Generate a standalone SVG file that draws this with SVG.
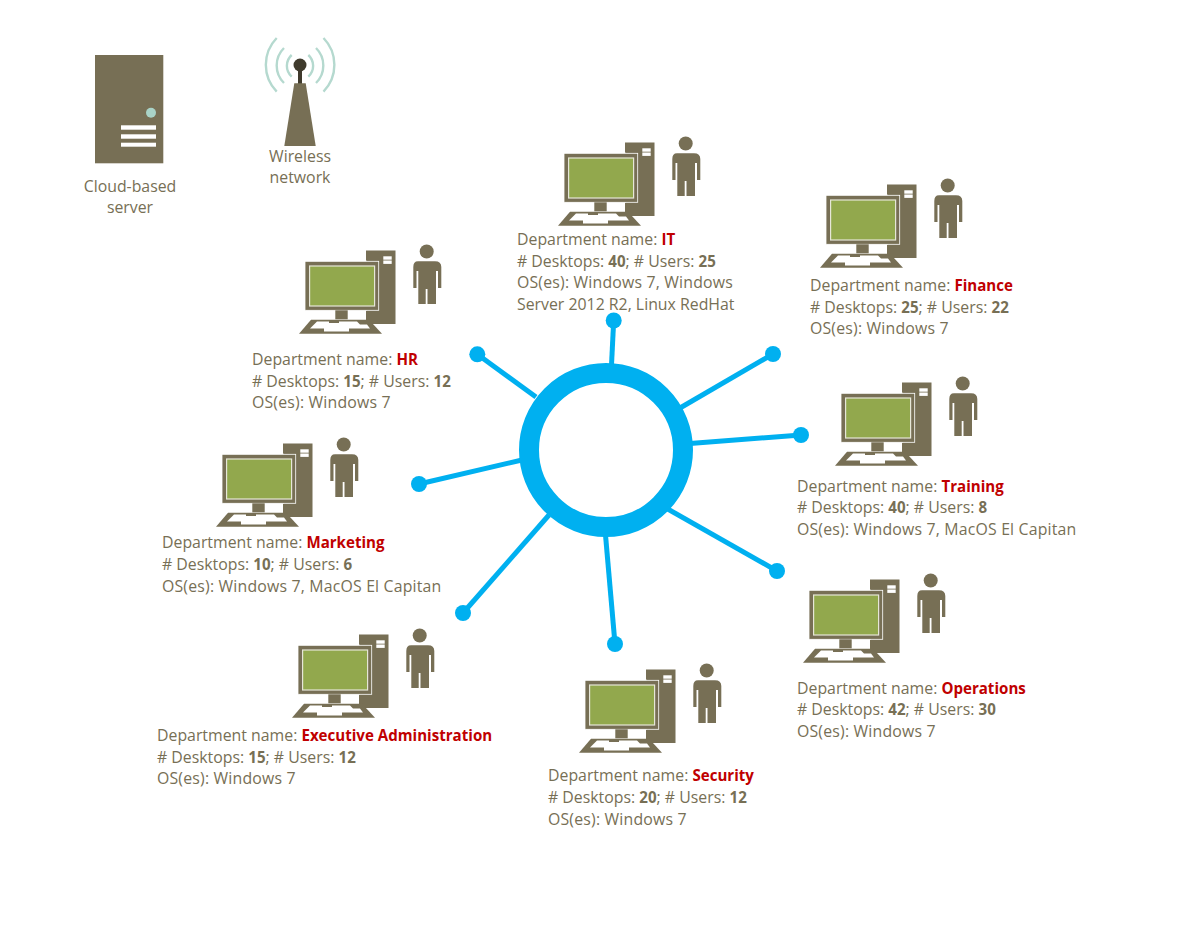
<svg xmlns="http://www.w3.org/2000/svg" width="1200" height="927" viewBox="0 0 1200 927">
<style>
text{font-family:"Open Sans","Noto Sans","Liberation Sans",sans-serif;font-size:15.850px;fill:#776f55}
.b{font-weight:700;font-size:15.100px}
.r{font-weight:700;font-size:15.100px;fill:#c00000}
.m{text-anchor:middle}
.os{letter-spacing:.18px}
.c{fill:#776f55}
.w{fill:#fff}
.arc{fill:none;stroke:#b5d9cf;stroke-width:2.400}
.link{stroke:#00b0f0;stroke-width:5;fill:none}
.dot{fill:#00b0f0}
</style>
<defs>
<g id="workstation">
<rect class="c" x="61" y="-0.500" width="29.500" height="73.500"/>
<rect class="w" x="78.300" y="5.300" width="8.400" height="3.400"/>
<rect class="w" x="78.300" y="9.500" width="8.400" height="3.400"/>
<rect class="w" x="60" y="9.500" width="1.500" height="50.500"/>
<rect x="0" y="10.300" width="73.700" height="49" fill="#776f55" stroke="#fff" stroke-width="0.800"/>
<rect x="4.600" y="15" width="65" height="40" fill="#92a84d" stroke="#e6e6d8" stroke-width="1.200"/>
<rect class="c" x="30.300" y="59.300" width="12.400" height="9"/>
<path class="c" d="M6 68.700H64L77 82.700H-6Z"/>
<path class="w" d="M9 73.500 12 70.500H24V72H34V70.500H52L55 73.500H62L65 77.500H44V80.500H19V77.500H5Z"/>
<circle class="c" cx="121.700" cy="0.500" r="7"/>
<path class="c" d="M113 10.300H130Q136.300 10.300 136.300 16V37H133V20H131V53H122.500V38H120.700V53H113.300V20H111.500V37H108.300V16Q108.300 10.300 113 10.300Z"/>
</g>
</defs>

<g id="connectors">
<path class="link" d="M611.500 365 613.700 320.500"/>
<path class="link" d="M536 397 477.300 354.300"/>
<path class="link" d="M680 408 773 354"/>
<path class="link" d="M690 443.500 801 435"/>
<path class="link" d="M666 508 777 571"/>
<path class="link" d="M605.500 535 615 644"/>
<path class="link" d="M549 515 463 613"/>
<path class="link" d="M522 460 419 484"/>
<circle class="dot" cx="613.700" cy="320.500" r="8"/>
<circle class="dot" cx="477.300" cy="354.300" r="8"/>
<circle class="dot" cx="773" cy="354" r="8"/>
<circle class="dot" cx="801" cy="435" r="8"/>
<circle class="dot" cx="777" cy="571" r="8"/>
<circle class="dot" cx="615" cy="644" r="8"/>
<circle class="dot" cx="463" cy="613" r="8"/>
<circle class="dot" cx="419" cy="484" r="8"/>
</g>

<g id="hub"><circle cx="606" cy="450" r="77" fill="#fff" stroke="#00b0f0" stroke-width="20"/></g>

<g id="server">
<rect class="c" x="95" y="55" width="68.300" height="108.300"/>
<circle cx="151" cy="112.700" r="5" fill="#a9d3c7"/>
<rect class="w" x="121" y="125.300" width="35" height="4.400"/>
<rect class="w" x="121" y="134.300" width="35" height="4.400"/>
<rect class="w" x="121" y="142.700" width="35" height="4"/>
<text class="m" x="130" y="191.700">Cloud-based</text>
<text class="m" x="130" y="213">server</text>
</g>

<g id="wireless">
<path class="arc" d="M276.700 38A38.600 38.600 0 0 0 276.700 91.700"/>
<path class="arc" d="M323.500 38A38.600 38.600 0 0 1 323.500 91.700"/>
<path class="arc" d="M284 48A24.600 24.600 0 0 0 284 83"/>
<path class="arc" d="M316 48A24.600 24.600 0 0 1 316 83"/>
<path class="arc" d="M291.700 55A14.600 14.600 0 0 0 291.700 76.700"/>
<path class="arc" d="M308.300 55A14.600 14.600 0 0 1 308.300 76.700"/>
<rect x="298" y="65" width="4" height="19" fill="#3f3a2c"/>
<circle cx="300" cy="65" r="6.500" fill="#3f3a2c"/>
<path class="c" d="M294.300 83.300H305.700L315.700 146H284.300Z"/>
<text class="m" x="300" y="162">Wireless</text>
<text class="m" x="300" y="183">network</text>
</g>

<g id="dept-it">
<use href="#workstation" x="564" y="143"/>
<text x="517" y="245">Department name: <tspan class="r">IT</tspan></text>
<text x="517" y="267"># Desktops: <tspan class="b">40</tspan>; # Users: <tspan class="b">25</tspan></text>
<text class="os" x="517" y="288">OS(es): Windows 7, Windows</text>
<text x="517" y="310">Server 2012 R2, Linux RedHat</text>
</g>
<g id="dept-finance">
<use href="#workstation" x="826" y="185"/>
<text x="810" y="291">Department name: <tspan class="r">Finance</tspan></text>
<text x="810" y="313"># Desktops: <tspan class="b">25</tspan>; # Users: <tspan class="b">22</tspan></text>
<text class="os" x="810" y="334">OS(es): Windows 7</text>
</g>
<g id="dept-hr">
<use href="#workstation" x="305" y="251"/>
<text x="252" y="365">Department name: <tspan class="r">HR</tspan></text>
<text x="252" y="387"># Desktops: <tspan class="b">15</tspan>; # Users: <tspan class="b">12</tspan></text>
<text class="os" x="252" y="408">OS(es): Windows 7</text>
</g>
<g id="dept-training">
<use href="#workstation" x="841" y="383"/>
<text x="797" y="492">Department name: <tspan class="r">Training</tspan></text>
<text x="797" y="513"># Desktops: <tspan class="b">40</tspan>; # Users: <tspan class="b">8</tspan></text>
<text class="os" x="797" y="535">OS(es): Windows 7, MacOS El Capitan</text>
</g>
<g id="dept-marketing">
<use href="#workstation" x="222" y="444"/>
<text x="162" y="548">Department name: <tspan class="r">Marketing</tspan></text>
<text x="162" y="570"># Desktops: <tspan class="b">10</tspan>; # Users: <tspan class="b">6</tspan></text>
<text class="os" x="162" y="592">OS(es): Windows 7, MacOS El Capitan</text>
</g>
<g id="dept-operations">
<use href="#workstation" x="809" y="580"/>
<text x="797" y="694">Department name: <tspan class="r">Operations</tspan></text>
<text x="797" y="715"># Desktops: <tspan class="b">42</tspan>; # Users: <tspan class="b">30</tspan></text>
<text class="os" x="797" y="737">OS(es): Windows 7</text>
</g>
<g id="dept-executive">
<use href="#workstation" x="298" y="635"/>
<text x="157" y="741">Department name: <tspan class="r">Executive Administration</tspan></text>
<text x="157" y="763"># Desktops: <tspan class="b">15</tspan>; # Users: <tspan class="b">12</tspan></text>
<text class="os" x="157" y="784">OS(es): Windows 7</text>
</g>
<g id="dept-security">
<use href="#workstation" x="585" y="670"/>
<text x="548" y="781">Department name: <tspan class="r">Security</tspan></text>
<text x="548" y="803"># Desktops: <tspan class="b">20</tspan>; # Users: <tspan class="b">12</tspan></text>
<text class="os" x="548" y="825">OS(es): Windows 7</text>
</g>
</svg>
